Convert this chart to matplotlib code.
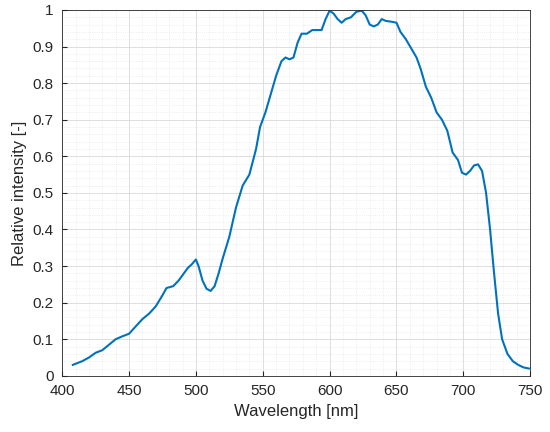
import numpy as np
import matplotlib.pyplot as plt
from matplotlib.ticker import MultipleLocator

plt.rcParams['font.family'] = ['Liberation Sans', 'DejaVu Sans']

wavelength = [408, 415, 420, 425, 430, 435, 440, 445, 450, 455, 460, 465, 470, 475, 478,
              483, 487, 490, 494, 497, 500, 502, 505, 508, 511, 514, 517, 520, 525, 530,
              535, 540, 545, 548, 552, 556, 560, 564, 567, 570, 573, 576, 579, 583, 587,
              591, 594, 597, 600, 603, 606, 609, 612, 616, 620, 624, 627, 630, 633, 636,
              639, 642, 646, 650, 653, 657, 661, 665, 668, 672, 676, 680, 684, 688, 692,
              696, 699, 702, 705, 708, 711, 714, 717, 720, 723, 726, 729, 733, 737, 741,
              745, 749]
intensity = [0.03, 0.04, 0.05, 0.063, 0.07, 0.085, 0.10, 0.108, 0.115, 0.135, 0.155, 0.17,
             0.19, 0.22, 0.24, 0.245, 0.26, 0.275, 0.295, 0.305, 0.318, 0.30, 0.26, 0.238,
             0.232, 0.245, 0.28, 0.32, 0.38, 0.46, 0.52, 0.55, 0.62, 0.68, 0.72, 0.77, 0.82,
             0.86, 0.87, 0.865, 0.87, 0.91, 0.935, 0.935, 0.945, 0.945, 0.945, 0.975, 0.998,
             0.99, 0.975, 0.965, 0.975, 0.98, 0.995, 0.998, 0.985, 0.96, 0.955, 0.96, 0.975,
             0.97, 0.968, 0.965, 0.94, 0.92, 0.895, 0.87, 0.84, 0.79, 0.76, 0.72, 0.70, 0.67,
             0.61, 0.59, 0.555, 0.55, 0.56, 0.575, 0.578, 0.56, 0.50, 0.40, 0.28, 0.17, 0.10,
             0.06, 0.04, 0.03, 0.023, 0.02]

fig = plt.figure(figsize=(5.5, 4.32), dpi=100)
ax = fig.add_axes([0.113, 0.13, 0.851, 0.847])
ax.plot(wavelength, intensity, color=(0, 0.447, 0.741), lw=1.5)
ax.set_xlim(400, 750)
ax.set_ylim(0, 1)
ax.xaxis.set_major_locator(MultipleLocator(50))
ax.xaxis.set_minor_locator(MultipleLocator(10))
ax.yaxis.set_minor_locator(MultipleLocator(0.02))
ax.set_yticks(np.arange(0, 1.01, 0.1))
ax.set_yticklabels(['0'] + [f'{v:.1f}' for v in np.arange(0.1, 0.95, 0.1)] + ['1'])
ax.grid(which='major', color='#d9d9d9', lw=0.6)
ax.grid(which='minor', color='#e3e3e3', lw=0.5, ls=':')
ax.tick_params(which='both', direction='in', labelsize=11, colors='#262626')
ax.tick_params(axis='x', pad=6)
ax.tick_params(axis='y', pad=6)
ax.tick_params(which='minor', length=0)
for s in ax.spines.values():
    s.set_color('#262626')
    s.set_linewidth(0.6)
ax.set_xlabel('Wavelength [nm]', fontsize=12, color='#262626')
ax.set_ylabel('Relative intensity [-]', fontsize=12, color='#262626')
fig.savefig('out.png')
